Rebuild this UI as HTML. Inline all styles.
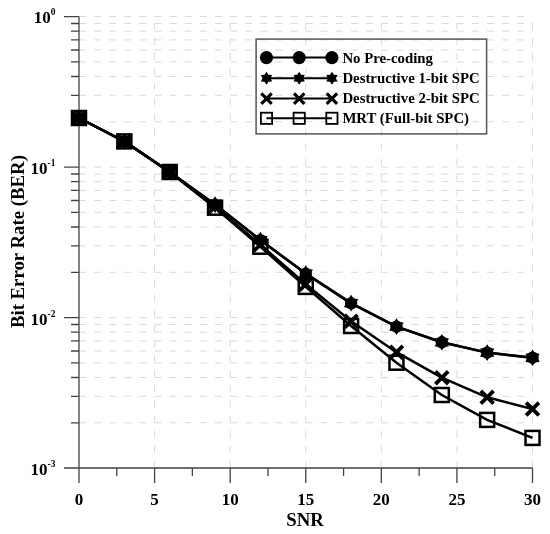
<!DOCTYPE html>
<html><head><meta charset="utf-8"><style>
html,body{margin:0;padding:0;background:#fff;}
body{width:550px;height:534px;overflow:hidden;}
svg{display:block;}
text{font-family:"Liberation Serif",serif;font-weight:bold;fill:#000;}
.lg{font-size:14.8px;}
.tk{font-size:17px;}
.sup{font-size:9.5px;}
.ttl{font-size:18.8px;}
</style></head><body>
<svg width="550" height="534" viewBox="0 0 550 534">
<path d="M79 167.10H532.51 M79 121.79H532.51 M79 95.29H532.51 M79 76.49H532.51 M79 61.91H532.51 M79 49.99H532.51 M79 39.91H532.51 M79 31.18H532.51 M79 23.49H532.51 M79 317.60H532.51 M79 272.29H532.51 M79 245.79H532.51 M79 226.99H532.51 M79 212.41H532.51 M79 200.49H532.51 M79 190.41H532.51 M79 181.68H532.51 M79 173.99H532.51 M79 468.10H532.51 M79 422.79H532.51 M79 396.29H532.51 M79 377.49H532.51 M79 362.91H532.51 M79 350.99H532.51 M79 340.91H532.51 M79 332.18H532.51 M79 324.49H532.51 M79 16.60H532.51" stroke="#dadada" stroke-width="1" stroke-dasharray="7 8.11" fill="none"/>
<path d="M154.59 468V16 M230.17 468V16 M305.75 468V16 M381.34 468V16 M456.93 468V16 M532.51 468V16" stroke="#dadada" stroke-width="1" stroke-dasharray="7 8.11" stroke-dashoffset="0" fill="none"/>
<path d="M79.0 16.6V483 M64 468H532.51 M64 16.60H79.0 M64 167.10H79.0 M64 317.60H79.0 M71 121.79H79.0 M71 95.29H79.0 M71 76.49H79.0 M71 61.91H79.0 M71 49.99H79.0 M71 39.91H79.0 M71 31.18H79.0 M71 23.49H79.0 M71 272.29H79.0 M71 245.79H79.0 M71 226.99H79.0 M71 212.41H79.0 M71 200.49H79.0 M71 190.41H79.0 M71 181.68H79.0 M71 173.99H79.0 M71 422.79H79.0 M71 396.29H79.0 M71 377.49H79.0 M71 362.91H79.0 M71 350.99H79.0 M71 340.91H79.0 M71 332.18H79.0 M71 324.49H79.0 M154.59 468V483 M230.17 468V483 M305.75 468V483 M381.34 468V483 M456.93 468V483 M532.51 468V483 M116.79 468V476 M192.38 468V476 M267.96 468V476 M343.55 468V476 M419.13 468V476 M494.72 468V476" stroke="#444" stroke-width="1.3" fill="none"/>
<path d="M79.00 118.00 L124.35 141.40 L169.70 172.00 L215.05 204.60 L260.40 240.10 L305.75 273.60 L351.11 303.40 L396.46 326.60 L441.81 342.30 L487.16 352.60 L532.51 357.70" stroke="#000" stroke-width="2.5" fill="none" stroke-linejoin="round"/>
<path d="M79.00 118.00 L124.35 141.40 L169.70 172.00 L215.05 204.60 L260.40 240.10 L305.75 273.60 L351.11 303.10 L396.46 326.60 L441.81 342.30 L487.16 352.60 L532.51 357.80" stroke="#000" stroke-width="2.5" fill="none" stroke-linejoin="round"/>
<path d="M79.00 118.00 L124.35 141.40 L169.70 172.00 L215.05 206.70 L260.40 244.60 L305.75 284.30 L351.11 321.30 L396.46 352.20 L441.81 377.70 L487.16 397.30 L532.51 409.00" stroke="#000" stroke-width="2.5" fill="none" stroke-linejoin="round"/>
<path d="M79.00 118.00 L124.35 141.40 L169.70 172.00 L215.05 207.70 L260.40 246.70 L305.75 286.90 L351.11 326.00 L396.46 362.70 L441.81 395.00 L487.16 419.90 L532.51 437.90" stroke="#000" stroke-width="2.5" fill="none" stroke-linejoin="round"/>
<circle cx="79.00" cy="118.00" r="6.2" fill="#000"/>
<circle cx="124.35" cy="141.40" r="6.2" fill="#000"/>
<circle cx="169.70" cy="172.00" r="6.2" fill="#000"/>
<circle cx="215.05" cy="204.60" r="6.2" fill="#000"/>
<circle cx="260.40" cy="240.10" r="6.2" fill="#000"/>
<circle cx="305.75" cy="273.60" r="6.2" fill="#000"/>
<circle cx="351.11" cy="303.40" r="6.2" fill="#000"/>
<circle cx="396.46" cy="326.60" r="6.2" fill="#000"/>
<circle cx="441.81" cy="342.30" r="6.2" fill="#000"/>
<circle cx="487.16" cy="352.60" r="6.2" fill="#000"/>
<circle cx="532.51" cy="357.70" r="6.2" fill="#000"/>
<polygon points="79.00,109.70 81.50,113.67 86.19,113.85 84.00,118.00 86.19,122.15 81.50,122.33 79.00,126.30 76.50,122.33 71.81,122.15 74.00,118.00 71.81,113.85 76.50,113.67" fill="#000"/>
<polygon points="124.35,133.10 126.85,137.07 131.54,137.25 129.35,141.40 131.54,145.55 126.85,145.73 124.35,149.70 121.85,145.73 117.16,145.55 119.35,141.40 117.16,137.25 121.85,137.07" fill="#000"/>
<polygon points="169.70,163.70 172.20,167.67 176.89,167.85 174.70,172.00 176.89,176.15 172.20,176.33 169.70,180.30 167.20,176.33 162.51,176.15 164.70,172.00 162.51,167.85 167.20,167.67" fill="#000"/>
<polygon points="215.05,196.30 217.55,200.27 222.24,200.45 220.05,204.60 222.24,208.75 217.55,208.93 215.05,212.90 212.55,208.93 207.86,208.75 210.05,204.60 207.86,200.45 212.55,200.27" fill="#000"/>
<polygon points="260.40,231.80 262.90,235.77 267.59,235.95 265.40,240.10 267.59,244.25 262.90,244.43 260.40,248.40 257.90,244.43 253.22,244.25 255.40,240.10 253.22,235.95 257.90,235.77" fill="#000"/>
<polygon points="305.75,265.30 308.25,269.27 312.94,269.45 310.75,273.60 312.94,277.75 308.25,277.93 305.75,281.90 303.25,277.93 298.57,277.75 300.75,273.60 298.57,269.45 303.25,269.27" fill="#000"/>
<polygon points="351.11,294.80 353.61,298.77 358.29,298.95 356.11,303.10 358.29,307.25 353.61,307.43 351.11,311.40 348.61,307.43 343.92,307.25 346.11,303.10 343.92,298.95 348.61,298.77" fill="#000"/>
<polygon points="396.46,318.30 398.96,322.27 403.65,322.45 401.46,326.60 403.65,330.75 398.96,330.93 396.46,334.90 393.96,330.93 389.27,330.75 391.46,326.60 389.27,322.45 393.96,322.27" fill="#000"/>
<polygon points="441.81,334.00 444.31,337.97 449.00,338.15 446.81,342.30 449.00,346.45 444.31,346.63 441.81,350.60 439.31,346.63 434.62,346.45 436.81,342.30 434.62,338.15 439.31,337.97" fill="#000"/>
<polygon points="487.16,344.30 489.66,348.27 494.35,348.45 492.16,352.60 494.35,356.75 489.66,356.93 487.16,360.90 484.66,356.93 479.97,356.75 482.16,352.60 479.97,348.45 484.66,348.27" fill="#000"/>
<polygon points="532.51,349.50 535.01,353.47 539.70,353.65 537.51,357.80 539.70,361.95 535.01,362.13 532.51,366.10 530.01,362.13 525.32,361.95 527.51,357.80 525.32,353.65 530.01,353.47" fill="#000"/>
<path d="M72.60 111.60L85.40 124.40M72.60 124.40L85.40 111.60" stroke="#000" stroke-width="3.8" fill="none"/>
<path d="M117.95 135.00L130.75 147.80M117.95 147.80L130.75 135.00" stroke="#000" stroke-width="3.8" fill="none"/>
<path d="M163.30 165.60L176.10 178.40M163.30 178.40L176.10 165.60" stroke="#000" stroke-width="3.8" fill="none"/>
<path d="M208.65 200.30L221.45 213.10M208.65 213.10L221.45 200.30" stroke="#000" stroke-width="3.8" fill="none"/>
<path d="M254.00 238.20L266.80 251.00M254.00 251.00L266.80 238.20" stroke="#000" stroke-width="3.8" fill="none"/>
<path d="M299.36 277.90L312.15 290.70M299.36 290.70L312.15 277.90" stroke="#000" stroke-width="3.8" fill="none"/>
<path d="M344.71 314.90L357.51 327.70M344.71 327.70L357.51 314.90" stroke="#000" stroke-width="3.8" fill="none"/>
<path d="M390.06 345.80L402.86 358.60M390.06 358.60L402.86 345.80" stroke="#000" stroke-width="3.8" fill="none"/>
<path d="M435.41 371.30L448.21 384.10M435.41 384.10L448.21 371.30" stroke="#000" stroke-width="3.8" fill="none"/>
<path d="M480.76 390.90L493.56 403.70M480.76 403.70L493.56 390.90" stroke="#000" stroke-width="3.8" fill="none"/>
<path d="M526.11 402.60L538.91 415.40M526.11 415.40L538.91 402.60" stroke="#000" stroke-width="3.8" fill="none"/>
<rect x="72.00" y="111.00" width="14.00" height="14.00" stroke="#000" stroke-width="2.5" fill="none"/>
<rect x="117.35" y="134.40" width="14.00" height="14.00" stroke="#000" stroke-width="2.5" fill="none"/>
<rect x="162.70" y="165.00" width="14.00" height="14.00" stroke="#000" stroke-width="2.5" fill="none"/>
<rect x="208.05" y="200.70" width="14.00" height="14.00" stroke="#000" stroke-width="2.5" fill="none"/>
<rect x="253.40" y="239.70" width="14.00" height="14.00" stroke="#000" stroke-width="2.5" fill="none"/>
<rect x="298.75" y="279.90" width="14.00" height="14.00" stroke="#000" stroke-width="2.5" fill="none"/>
<rect x="344.11" y="319.00" width="14.00" height="14.00" stroke="#000" stroke-width="2.5" fill="none"/>
<rect x="389.46" y="355.70" width="14.00" height="14.00" stroke="#000" stroke-width="2.5" fill="none"/>
<rect x="434.81" y="388.00" width="14.00" height="14.00" stroke="#000" stroke-width="2.5" fill="none"/>
<rect x="480.16" y="412.90" width="14.00" height="14.00" stroke="#000" stroke-width="2.5" fill="none"/>
<rect x="525.51" y="430.90" width="14.00" height="14.00" stroke="#000" stroke-width="2.5" fill="none"/>
<rect x="256.1" y="39.1" width="230.5" height="94.8" stroke="#555" stroke-width="1.5" fill="none"/>
<path d="M266.5 57.6H331.9" stroke="#000" stroke-width="2" fill="none"/>
<circle cx="266.50" cy="57.60" r="6.6" fill="#000"/>
<circle cx="299.20" cy="57.60" r="6.6" fill="#000"/>
<circle cx="331.90" cy="57.60" r="6.6" fill="#000"/>
<path d="M266.5 78.2H331.9" stroke="#000" stroke-width="2" fill="none"/>
<polygon points="266.50,71.70 268.50,74.74 272.13,74.95 270.50,78.20 272.13,81.45 268.50,81.66 266.50,84.70 264.50,81.66 260.87,81.45 262.50,78.20 260.87,74.95 264.50,74.74" fill="#000"/>
<polygon points="299.20,71.70 301.20,74.74 304.83,74.95 303.20,78.20 304.83,81.45 301.20,81.66 299.20,84.70 297.20,81.66 293.57,81.45 295.20,78.20 293.57,74.95 297.20,74.74" fill="#000"/>
<polygon points="331.90,71.70 333.90,74.74 337.53,74.95 335.90,78.20 337.53,81.45 333.90,81.66 331.90,84.70 329.90,81.66 326.27,81.45 327.90,78.20 326.27,74.95 329.90,74.74" fill="#000"/>
<path d="M266.5 98.6H331.9" stroke="#000" stroke-width="2" fill="none"/>
<path d="M261.30 93.40L271.70 103.80M261.30 103.80L271.70 93.40" stroke="#000" stroke-width="3.1" fill="none"/>
<path d="M294.00 93.40L304.40 103.80M294.00 103.80L304.40 93.40" stroke="#000" stroke-width="3.1" fill="none"/>
<path d="M326.70 93.40L337.10 103.80M326.70 103.80L337.10 93.40" stroke="#000" stroke-width="3.1" fill="none"/>
<path d="M266.5 118.3H331.9" stroke="#000" stroke-width="2" fill="none"/>
<rect x="260.90" y="112.70" width="11.20" height="11.20" stroke="#000" stroke-width="1.8" fill="none"/>
<rect x="293.60" y="112.70" width="11.20" height="11.20" stroke="#000" stroke-width="1.8" fill="none"/>
<rect x="326.30" y="112.70" width="11.20" height="11.20" stroke="#000" stroke-width="1.8" fill="none"/>
<text x="342.4" y="62.8" class="lg">No Pre-coding</text>
<text x="342.4" y="82.7" class="lg">Destructive 1-bit SPC</text>
<text x="342.4" y="102.6" class="lg">Destructive 2-bit SPC</text>
<text x="342.4" y="122.7" class="lg">MRT (Full-bit SPC)</text>
<text x="79.00" y="505" class="tk" text-anchor="middle">0</text>
<text x="154.59" y="505" class="tk" text-anchor="middle">5</text>
<text x="230.17" y="505" class="tk" text-anchor="middle">10</text>
<text x="305.75" y="505" class="tk" text-anchor="middle">15</text>
<text x="381.34" y="505" class="tk" text-anchor="middle">20</text>
<text x="456.93" y="505" class="tk" text-anchor="middle">25</text>
<text x="532.51" y="505" class="tk" text-anchor="middle">30</text>
<text x="55.5" y="23.20" class="tk" text-anchor="end">10<tspan class="sup" dy="-8">0</tspan></text>
<text x="55.5" y="174.30" class="tk" text-anchor="end">10<tspan class="sup" dy="-8">-1</tspan></text>
<text x="55.5" y="324.80" class="tk" text-anchor="end">10<tspan class="sup" dy="-8">-2</tspan></text>
<text x="55.5" y="475.30" class="tk" text-anchor="end">10<tspan class="sup" dy="-8">-3</tspan></text>
<text x="305" y="525.5" class="ttl" text-anchor="middle">SNR</text>
<text transform="translate(24.2 241.6) rotate(-90)" class="ttl" text-anchor="middle">Bit Error Rate (BER)</text>
</svg>
</body></html>
